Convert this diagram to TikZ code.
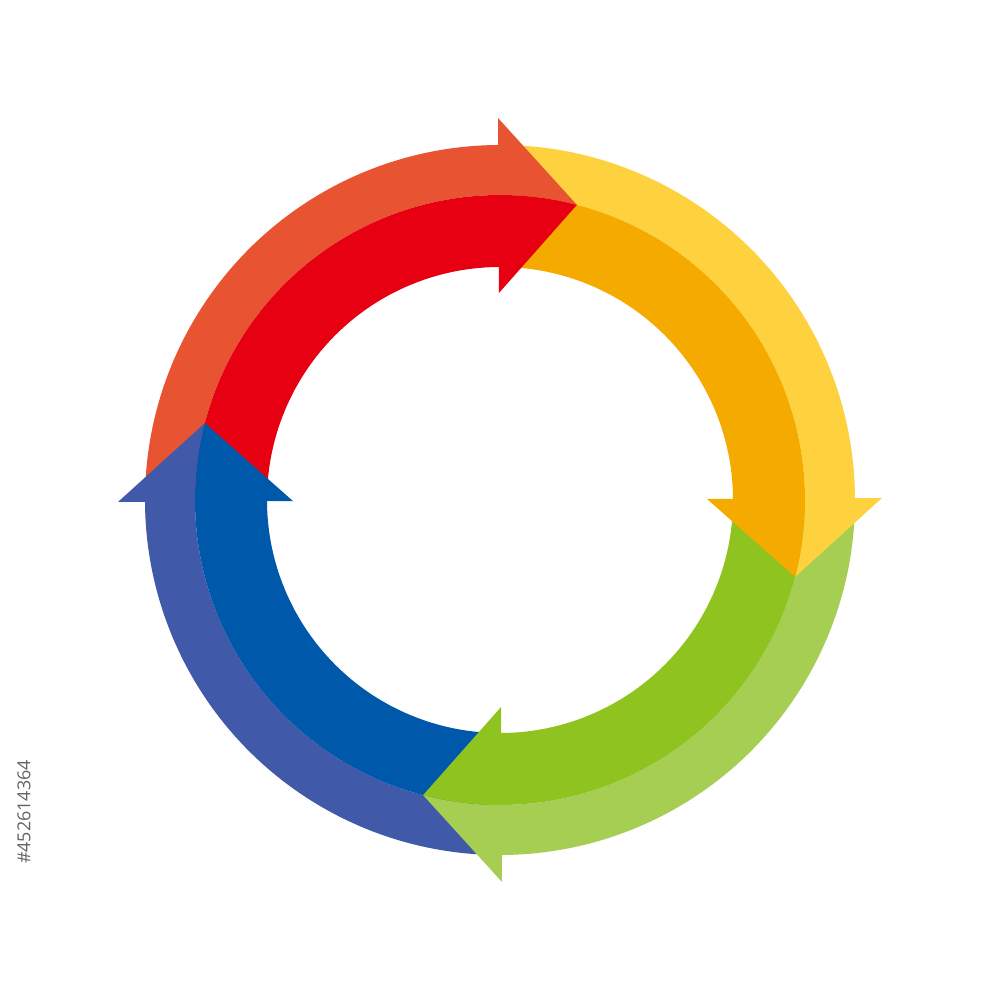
\documentclass[tikz,border=0pt]{standalone}
\usepackage{fontspec}
\setmainfont{Open Sans}
\definecolor{redL}{RGB}{232,84,50}
\definecolor{redD}{RGB}{230,0,18}
\definecolor{yelL}{RGB}{254,210,62}
\definecolor{yelD}{RGB}{245,170,0}
\definecolor{grnL}{RGB}{166,206,82}
\definecolor{grnD}{RGB}{143,195,31}
\definecolor{bluL}{RGB}{64,89,168}
\definecolor{bluD}{RGB}{0,88,170}
\definecolor{wm}{RGB}{100,100,100}
\begin{document}
\begin{tikzpicture}[x=0.01cm,y=0.01cm]
\useasboundingbox (-500,-500) rectangle (500,500);
\fill[white] (-500,-500) rectangle (500,500);
% band: #1 start angle, #2 end angle, #3 light, #4 dark
\newcommand{\myband}[4]{%
  \fill[#3] (#1:355) arc[start angle=#1, end angle=#2, radius=355] -- (#2:305) arc[start angle=#2, end angle=#1, radius=305] -- cycle;
  \fill[#4] (#1:305) arc[start angle=#1, end angle=#2, radius=305] -- (#2:233) arc[start angle=#2, end angle=#1, radius=233] -- cycle;
}
% head: #1 base angle (slightly widened backwards to hide seams), #2 tip angle, #3 light, #4 dark
\newcommand{\myhead}[4]{%
  \fill[#3] (#1:382) -- (#2:305) arc[start angle=#2, end angle=#1, radius=305] -- cycle;
  \fill[#4] (#1:207) -- (#2:305) arc[start angle=#2, end angle=#1, radius=305] -- cycle;
}
\myband{180}{89}{redL}{redD}
\myband{90}{-1}{yelL}{yelD}
\myband{0}{-91}{grnL}{grnD}
\myband{-90}{-181}{bluL}{bluD}
\myhead{90.3}{75.4}{redL}{redD}
\myhead{0.3}{-14.6}{yelL}{yelD}
\myhead{-89.7}{-104.6}{grnL}{grnD}
\myhead{180.3}{165.4}{bluL}{bluD}
\node[rotate=90, text=wm, font=\fontsize{5.1pt}{6pt}\selectfont, inner sep=0pt] (id) at (-476,-312) {\#452614364};
\end{tikzpicture}
\end{document}
